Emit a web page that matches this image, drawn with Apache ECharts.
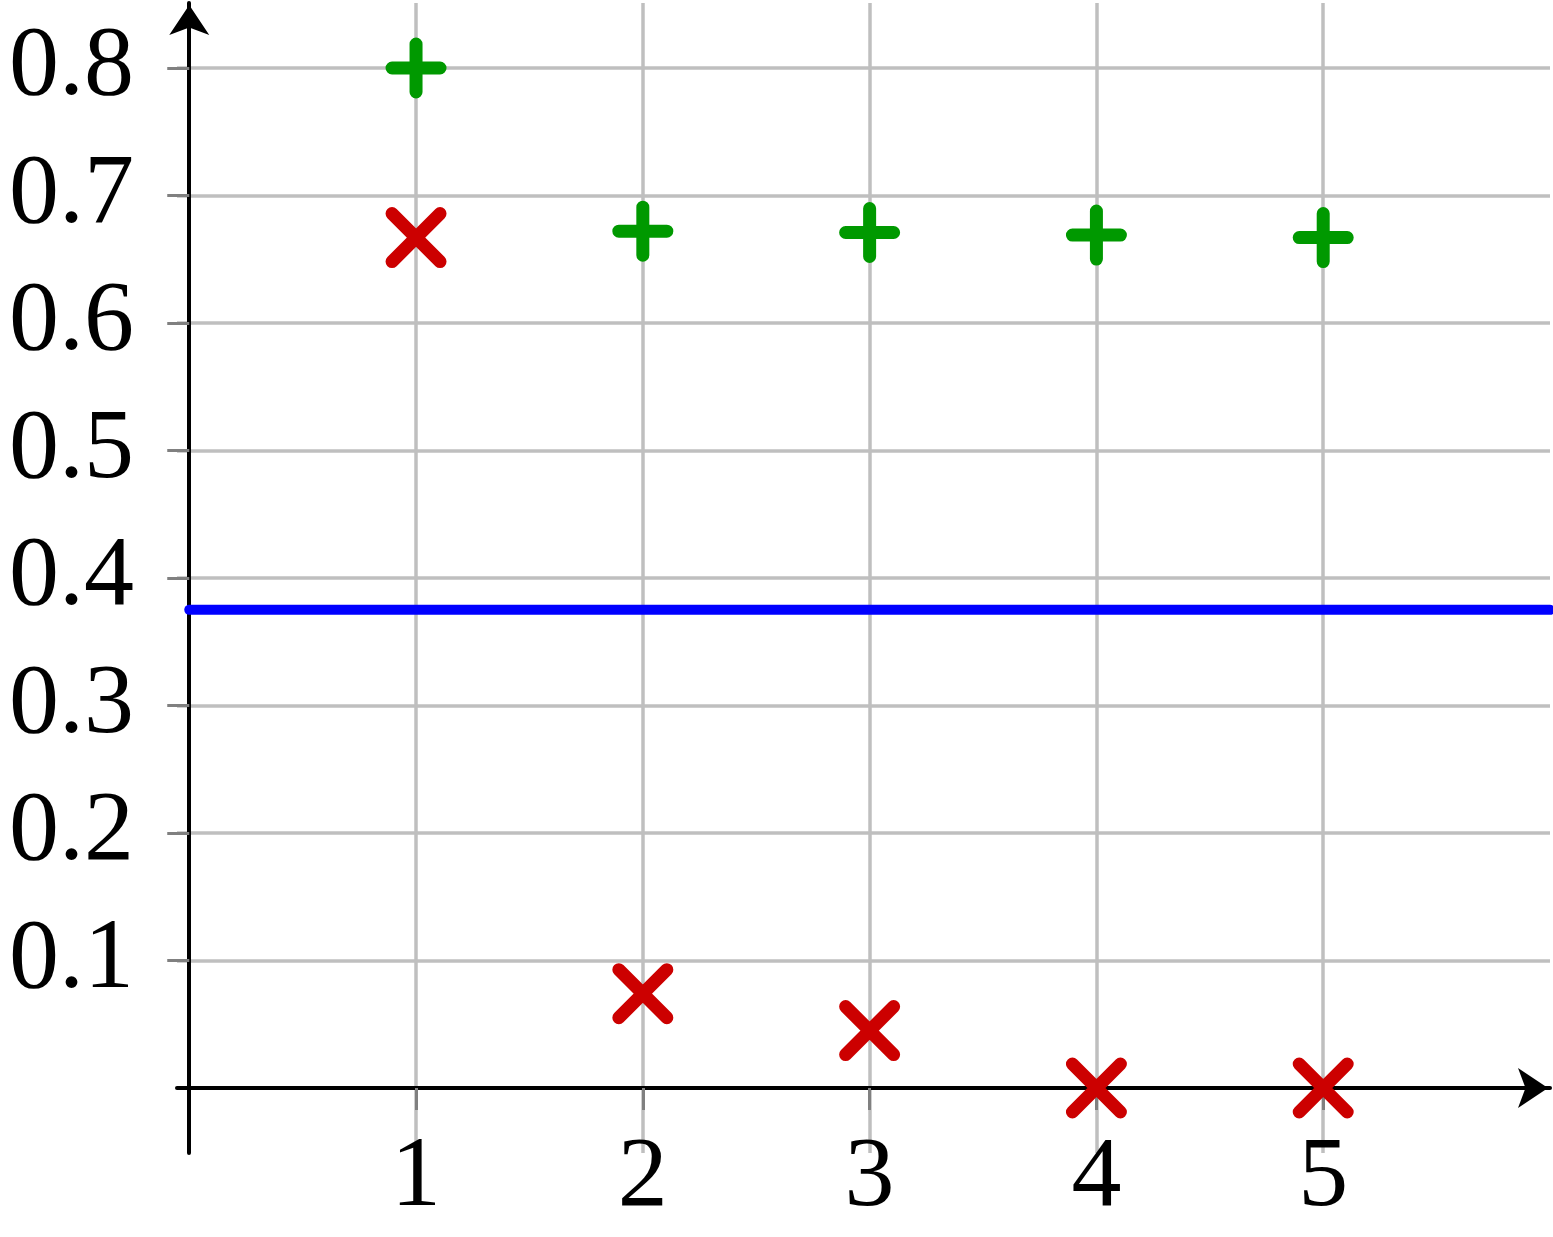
<!DOCTYPE html>
<html lang="en">
<head>
<meta charset="utf-8">
<title>plot</title>
<script src="https://cdn.jsdelivr.net/npm/echarts@6/dist/echarts.min.js"></script>
<style>
  html, body { margin: 0; padding: 0; background: #fff; }
  #chart { width: 1553px; height: 1237px; }
</style>
</head>
<body>
<div id="chart"></div>
<script>
// values
var xValues = [1, 2, 3, 4, 5];
var plusValues = [0.8, 0.672, 0.671, 0.669, 0.667];   // green +
var crossValues = [0.667, 0.074, 0.045, 0, 0];         // red x
var thresholdValue = 0.375;                             // blue line

var xTicks = [1, 2, 3, 4, 5];
var yTicks = [0.1, 0.2, 0.3, 0.4, 0.5, 0.6, 0.7, 0.8];

// axis extents (a bit past 0 so the gridlines poke out like the original)
var xRange = [-0.054, 6];
var yRange = [-0.051, 0.851];

var GREEN = '#009900';
var RED = '#cc0000';
var BLUE = '#0000ff';
var GRID = '#bfbfbf';
var TICK = '#808080';
var FONT = 'Liberation Serif';

function pairs(xs, ys) {
  return xs.map(function (x, i) { return [x, ys[i]]; });
}

function mainAxis(range, ticks, labelMargin) {
  return {
    type: 'value',
    min: range[0],
    max: range[1],
    axisLine: {
      show: true,
      onZero: true,
      symbol: ['none', 'arrow'],
      symbolSize: [30, 30],
      symbolOffset: [0, -2],
      lineStyle: { color: '#000', width: 4 }
    },
    axisTick: { show: true, inside: false, length: 22, customValues: ticks, lineStyle: { color: TICK, width: 3 } },
    splitLine: { show: true, lineStyle: { color: GRID, width: 3.5 } },
    axisLabel: {
      customValues: ticks, margin: labelMargin,
      color: '#000', fontFamily: FONT, fontSize: 100, lineHeight: 100
    }
  };
}

// twin axis only for the inner half of each tick mark
function tickTwin(range, ticks) {
  return {
    type: 'value',
    min: range[0],
    max: range[1],
    axisLine: { show: false, onZero: true },
    axisTick: { show: true, inside: true, length: 22, customValues: ticks, lineStyle: { color: TICK, width: 3 } },
    splitLine: { show: false },
    axisLabel: { show: false }
  };
}

var chart = echarts.init(document.getElementById('chart'));
chart.setOption({
  animation: false,
  backgroundColor: '#fff',
  grid: { left: 177, right: 3, top: 3, bottom: 84, containLabel: false, outerBoundsMode: 'none' },
  xAxis: [mainAxis(xRange, xTicks, -24), tickTwin(xRange, xTicks)],
  yAxis: [mainAxis(yRange, yTicks, 43), tickTwin(yRange, yTicks)],
  series: [
    {
      type: 'line',
      data: [[0, thresholdValue], [xRange[1], thresholdValue]],
      symbol: 'none',
      lineStyle: { color: BLUE, width: 10, cap: 'round' },
      z: 2
    },
    {
      type: 'scatter',
      data: pairs(xValues, crossValues),
      symbol: 'path://M-1,-1L1,1M-1,1L1,-1',
      symbolSize: 48,
      itemStyle: { color: RED, borderColor: RED, borderWidth: 13, borderCap: 'round', opacity: 1 },
      z: 3
    },
    {
      type: 'scatter',
      data: pairs(xValues, plusValues),
      symbol: 'path://M0,-1L0,1M-1,0L1,0',
      symbolSize: 48,
      itemStyle: { color: GREEN, borderColor: GREEN, borderWidth: 13, borderCap: 'round', opacity: 1 },
      z: 3
    }
  ]
});
</script>
</body>
</html>
